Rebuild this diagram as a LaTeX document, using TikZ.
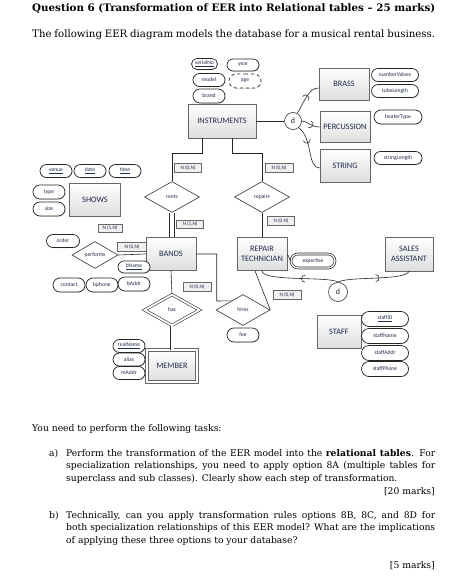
\documentclass[tikz,border=0pt]{standalone}
\usepackage{fontspec}
\setmainfont{DejaVu Serif}
\newfontfamily\diafont{Carlito}
\usetikzlibrary{shapes.geometric,shapes.misc,shadows,decorations.markings,calc}
\definecolor{navy}{HTML}{1F2A4F}
\definecolor{boxline}{HTML}{666666}
\begin{document}
\begin{tikzpicture}[x=1pt,y=-1pt,
  ent/.style={draw=boxline, line width=0.7pt, rectangle, top color=white, bottom color=black!13,
    minimum width=50pt, minimum height=33pt, inner sep=1pt, align=center,
    font=\diafont\fontsize{8.3}{9.6}\selectfont, text=navy,
    drop shadow={opacity=0.3, shadow xshift=0.8pt, shadow yshift=-0.8pt}},
  attr/.style={draw=black!85, line width=0.7pt, rounded rectangle, fill=white,
    minimum width=32pt, minimum height=13pt, inner sep=0pt,
    font=\diafont\fontsize{5.6}{6}\selectfont, text=navy,
    drop shadow={opacity=0.35, shadow xshift=0.6pt, shadow yshift=-0.6pt}},
  rel/.style={draw=black!80, line width=0.6pt, diamond, fill=white, inner sep=0pt,
    minimum width=55pt, minimum height=31pt,
    font=\diafont\fontsize{5.6}{6}\selectfont, text=navy},
  card/.style={draw=boxline, line width=0.6pt, fill=black!6, inner sep=0pt,
    minimum width=27pt, minimum height=9pt,
    font=\diafont\fontsize{5.2}{5.2}\selectfont, text=navy},
  disj/.style={circle, draw=black!80, line width=0.6pt, fill=white, minimum size=17pt,
    inner sep=0pt, font=\diafont\fontsize{8}{8}\selectfont, text=black!85},
  conn/.style={draw=black!85, line width=0.6pt},
  dbl/.style={draw=black!85, line width=0.5pt, double, double distance=#1},
  dbl/.default=3pt,
  subarc/.style={postaction={decorate}, decoration={markings,
    mark=at position #1 with {\draw[black!85, line width=0.6pt] (-2pt,3.5pt) arc[start angle=90, end angle=-90, radius=3.5pt];}}},
  body/.style={anchor=base west, inner sep=0pt, font=\fontsize{9.2}{11}\selectfont}
]
\fill[white] (0,0) rectangle (464,585);
\useasboundingbox (0,0) rectangle (464,585);

% ---------- header text ----------
\node[anchor=base west, inner sep=0pt, font=\bfseries\fontsize{10.3}{12}\selectfont] (title) at (32,11.5)
  {\makebox[403pt][s]{Question 6 (Transformation of EER into Relational tables – 25 marks)}};
\node[anchor=base west, inner sep=0pt, font=\fontsize{10.2}{12}\selectfont] (intro) at (32,37.5)
  {\makebox[403pt][s]{The following EER diagram models the database for a musical rental business.}};

% ---------- entities ----------
\node[ent, minimum width=68pt, minimum height=34pt] (inst) at (222,121) {INSTRUMENTS};
\node[ent, minimum height=32pt] (brass) at (344,84) {BRASS};
\node[ent, minimum height=31pt] (perc) at (345,127) {PERCUSSION};
\node[ent] (string) at (345,166) {STRING};
\node[ent, minimum width=51pt] (shows) at (95,200) {SHOWS};
\node[ent] (bands) at (171,254) {BANDS};
\node[ent] (rt) at (262,254) {REPAIR\\TECHNICIAN};
\node[ent, minimum width=48pt, minimum height=34pt] (sa) at (409,254) {SALES\\ASSISTANT};
\node[ent, minimum width=44pt] (staff) at (339,332) {STAFF};
\node[ent, minimum width=50pt, minimum height=32pt, double, double distance=2pt] (member) at (172,366) {MEMBER};

% ---------- attributes ----------
\node[attr, minimum width=26pt, minimum height=11pt] (serial) at (204.5,64) {\underline{serialNo}};
\node[attr, minimum height=12pt] (year) at (243,65) {year};
\node[attr] (model) at (209,80) {model};
\node[attr, dashed, minimum height=14pt] (age) at (245,81) {age};
\node[attr, minimum height=14pt] (brand) at (209,96) {brand};
\node[attr, minimum width=47pt] (valves) at (395,75) {numberValves};
\node[attr, minimum width=47pt] (tube) at (395,91) {tubeLength};
\node[attr, minimum width=48pt, minimum height=14pt] (beater) at (398,117) {beaterType};
\node[attr, minimum width=48pt] (strlen) at (398,158) {stringLength};
\node[attr] (venue) at (56,171) {\underline{venue}};
\node[attr] (date) at (90,171) {\underline{date}};
\node[attr] (time) at (125,171) {\underline{time}};
\node[attr, minimum height=14pt] (type) at (49,192) {type};
\node[attr, minimum height=14pt] (size) at (49,209) {size};
\node[attr, minimum width=33pt] (order) at (63,241) {order};
\node[attr, minimum height=12pt] (bname) at (134,267) {\underline{bName}};
\node[attr, minimum height=14pt] (contact) at (69,285) {contact};
\node[attr, minimum height=14pt] (bphone) at (102,285) {bphone};
\node[attr, minimum height=14pt] (baddr) at (134,284) {bAddr};
\node[attr, minimum width=44pt, minimum height=14pt, double, double distance=1.2pt] (expert) at (313,261) {expertise};
\node[attr, minimum height=14pt] (fee) at (243,335) {fee};
\node[attr] (realname) at (129,346) {\underline{realName}};
\node[attr] (alias) at (129,359.5) {alias};
\node[attr] (maddr) at (129,373) {mAddr};
\node[attr, minimum width=47pt, minimum height=15pt] (staffid) at (385,319) {\underline{staffID}};
\node[attr, minimum width=47pt, minimum height=15pt] (staffname) at (385,336) {staffName};
\node[attr, minimum width=47pt, minimum height=15pt] (staffaddr) at (385,353) {staffAddr};
\node[attr, minimum width=47pt, minimum height=15pt] (staffphone) at (385,369) {staffPhone};

% ---------- relationships ----------
\node[rel] (rents) at (172,197) {rents};
\node[rel] (repairs) at (262,197) {repairs};
\node[rel, minimum width=46pt, minimum height=27pt] (performs) at (95,255) {performs};
\node[rel, double, double distance=1.8pt] (has) at (172,310) {has};
\node[rel, minimum width=54pt] (hires) at (243,310) {hires};

% ---------- disjointness circles ----------
\node[disj] (d1) at (293,121) {d};
\node[disj, minimum size=19pt] (d2) at (338,292) {d};

% ---------- connectors ----------
\draw[conn] (inst.east) -- (d1.west);
\draw[conn, subarc=0.55] (d1.60) .. controls (305,100) and (309,88) .. ([yshift=-4pt]brass.west);
\draw[conn, subarc=0.55] (d1.east) .. controls (307,121) and (311,127) .. (perc.west);
\draw[conn, subarc=0.35] (d1.-50) .. controls (313,138) and (307,168) .. ([yshift=-2pt]string.west);

\draw[conn] ([xshift=-20pt]inst.south) -- ++(0,15) -| (rents.north);
\draw[conn] ([xshift=10pt]inst.south) -- ++(0,15) -| (repairs.north);
\draw[dbl=4.5pt] (rents.south) -- (rents.south |- bands.north);
\draw[conn] (repairs.south) -- (rt.north);
\draw[dbl=3.5pt] (shows.south -| performs.north) -- (performs.north);
\draw[conn] (performs.east) -- (bands.west);
\coordinate (hcorner) at ($(hires.west)+(1,-9)$);
\draw[conn] (bands.east) -| (hcorner) -- ($(hires.west)!0.58!(hires.north)$);
\draw[conn] ([xshift=-7pt]rt.south) -- (hires.east);
\draw[conn] (bands.south) -- (has.north);
\draw[dbl=3pt] (has.south) -- (member.north);
\draw[conn] (rt.east) -- (expert.west);

\draw[conn, subarc=0.45] (d2.north) .. controls (330,276) and (262,282) .. (rt.south);
\draw[conn, subarc=0.55] (d2.north) .. controls (348,276) and (405,281) .. (sa.south);
\draw[dbl=3.5pt] (d2.south) -- (d2.south |- staff.north);

% ---------- cardinalities ----------
\node[card, minimum width=24pt, minimum height=8pt] (c1) at (110,228) {N (1,N)};
\node[card, minimum width=29pt] (c2) at (132,247) {N (0,N)};
\node[card] (c3) at (188,168) {N (0,N)};
\node[card, minimum height=8pt] (c4) at (190,224) {N (1,N)};
\node[card, minimum width=28pt] (c5) at (279,168) {N (0,N)};
\node[card] (c6) at (281,221) {N (0,N)};
\node[card, minimum width=28pt] (c7) at (197,287) {N (0,N)};
\node[card, minimum width=28pt] (c8) at (287,295) {N (0,N)};

% ---------- task text ----------
\node[body] (tasks) at (32,431) {You need to perform the following tasks:};
\node[body] (la) at (49,456) {a)};
\node[body] (a1) at (66,456) {\makebox[369pt][s]{Perform the transformation of the EER model into the \textbf{relational tables}. For}};
\node[body] (a2) at (66,468.5) {\makebox[369pt][s]{specialization relationships, you need to apply option 8A (multiple tables for}};
\node[body] (a3) at (66,481) {superclass and sub classes). Clearly show each step of transformation.};
\node[body, anchor=base east] (m20) at (435,494) {[20 marks]};
\node[body] (lb) at (49,518) {b)};
\node[body] (b1) at (66,518) {\makebox[369pt][s]{Technically, can you apply transformation rules options 8B, 8C, and 8D for}};
\node[body] (b2) at (66,530.5) {\makebox[369pt][s]{both specialization relationships of this EER model? What are the implications}};
\node[body] (b3) at (66,543) {of applying these three options to your database?};
\node[body, anchor=base east] (m5) at (435,568) {[5 marks]};
\end{tikzpicture}
\end{document}
